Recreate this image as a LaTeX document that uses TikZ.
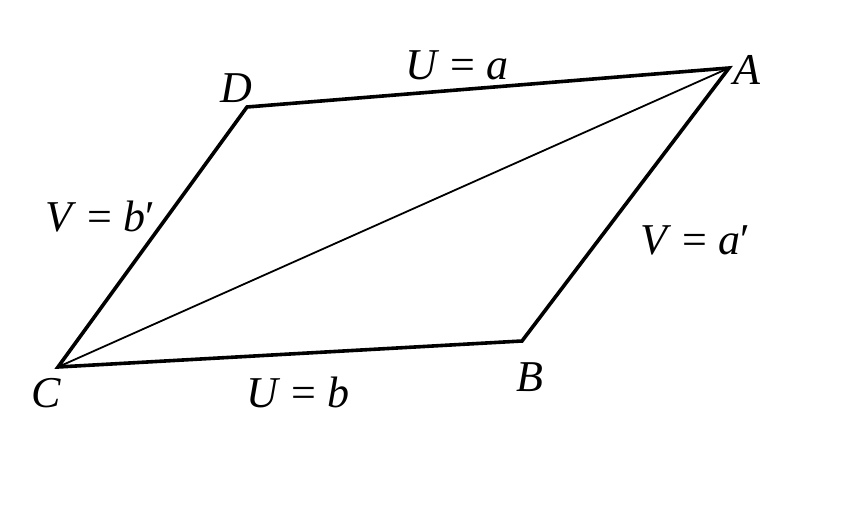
\documentclass[tikz,border=0pt]{standalone}
\usepackage{fontspec}
\setmainfont{Liberation Serif}
\newcommand{\vlet}[1]{\textit{#1}}
\tikzset{
  side/.style={line width=3.6pt, line join=miter},
  diag/.style={line width=1.8pt},
  lbl/.style={inner sep=0.75pt, font=\fontsize{44}{50}\selectfont}
}
\begin{document}
\begin{tikzpicture}[x=1pt,y=1pt,yscale=-1,xscale=1]
    \useasboundingbox (0,0) rectangle (860,518);

    % corners of the parallelogram
    \coordinate (A) at (729,68);
    \coordinate (B) at (522,341);
    \coordinate (C) at (58,367);
    \coordinate (D) at (247,107);

    %Shape: Parallelogram
    \draw[side] (A) -- (B) -- (C) -- (D) -- cycle;
    %Straight Lines: diagonal
    \draw[diag] (C) -- (A);

    % Text Node
    \node[lbl] (lA) at (747,70) {\vlet{A}};
    % Text Node
    \node[lbl] (lB) at (530,377) {\vlet{B}};
    % Text Node
    \node[lbl] (lC) at (46,393) {\vlet{C}};
    % Text Node
    \node[lbl] (lD) at (236,88) {\vlet{D}};
    % Text Node
    \node[lbl] (lUa) at (457,65) {\vlet{U} = \vlet{a}};
    % Text Node
    \node[lbl] (lVb) at (100,217) {\vlet{V} = \vlet{b}′};
    % Text Node
    \node[lbl] (lVa) at (695,240) {\vlet{V} = \vlet{a}′};
    % Text Node
    \node[lbl] (lUb) at (298,392) {\vlet{U} = \vlet{b}};

\end{tikzpicture}
\end{document}
